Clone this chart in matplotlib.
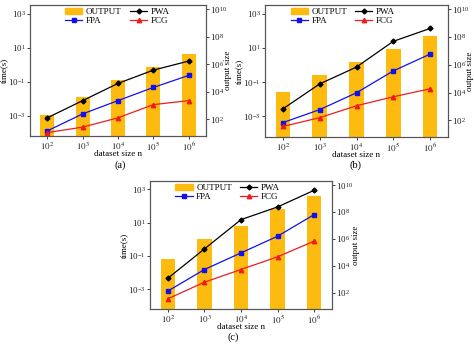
import numpy as np
import matplotlib.pyplot as plt
from matplotlib.ticker import FixedLocator, NullLocator
from matplotlib.patches import Patch

plt.rcParams['font.family'] = ['Liberation Serif', 'DejaVu Serif']
plt.rcParams['mathtext.fontset'] = 'stix'

sizes = ["$10^2$", "$10^3$", "$10^4$", "$10^5$", "$10^6$"]

# panel (a)
out_a = [2.2e2, 4e3, 7e4, 6.3e5, 5.8e6]
pwa_a = [7.4e-4, 7.6e-3, 7.8e-2, 0.47, 1.6]
fpa_a = [1.26e-4, 1.26e-3, 7.6e-3, 4.5e-2, 0.23]
fcg_a = [1e-4, 2.1e-4, 7.4e-4, 4.4e-3, 7.6e-3]

# panel (b)
out_b = [1.1e4, 1.8e5, 1.5e6, 1.3e7, 1.1e8]
pwa_b = [2.8e-3, 7.9e-2, 0.76, 24, 135]
fpa_b = [4.4e-4, 2.5e-3, 2.4e-2, 0.45, 4.3]
fcg_b = [2.6e-4, 8.5e-4, 4.2e-3, 1.4e-2, 4.1e-2]

# panel (c)
out_c = [3e4, 1e6, 9e6, 1.8e8, 1.6e9]
pwa_c = [4.5e-3, 0.26, 15, 87, 870]
fpa_c = [7.6e-4, 1.5e-2, 0.15, 1.5, 30]
fcg_c = [2.6e-4, 2.6e-3, 1.5e-2, 8.7e-2, 0.76]

FS = 6.5
BAR = '#FDBB0F'
W, H = 474, 347


def draw_panel(box, output, pwa, fpa, fcg, leg_x, caption, cap_xy, rlab_px):
    x0, y0, x1, y1 = box  # pixel box: left, top, right, bottom
    ax = fig.add_axes([x0 / W, 1 - y1 / H, (x1 - x0) / W, (y1 - y0) / H])
    ax2 = ax.twinx()
    x = np.arange(len(sizes))

    ax2.bar(x, output, width=0.4, color=BAR, bottom=1)
    ax2.set_yscale('log')
    ax2.set_ylim(10**0.8, 10**10.3)
    ax2.yaxis.set_major_locator(FixedLocator([1e2, 1e4, 1e6, 1e8, 1e10]))
    ax2.yaxis.set_minor_locator(NullLocator())
    ax2.set_ylabel("output size", fontsize=FS)
    ax2.yaxis.set_label_coords(1 + rlab_px / (x1 - x0), 0.5)

    # lines above the bars
    ax.set_zorder(ax2.get_zorder() + 1)
    ax.patch.set_visible(False)
    ax.plot(x, pwa, color='black', marker='D', markersize=2.5, lw=0.9, label="PWA")
    ax.plot(x, fpa, color='#1010F0', marker='s', markersize=3.2, lw=0.9, label="FPA")
    ax.plot(x, fcg, color='#EE1C1C', marker='^', markersize=3.2, lw=0.9, label="FCG")
    ax.set_yscale('log')
    ax.set_ylim(10**-4.2, 10**3.5)
    ax.yaxis.set_major_locator(FixedLocator([1e-3, 1e-1, 1e1, 1e3]))
    ax.yaxis.set_minor_locator(NullLocator())
    ax.set_xlim(-0.49, 4.49)
    ax.set_xticks(x)
    ax.set_xticklabels(sizes)
    ax.set_ylabel("time(s)", fontsize=FS, labelpad=0)
    ax.set_xlabel("dataset size n", fontsize=FS, labelpad=-1.5)

    for a in (ax, ax2):
        a.tick_params(labelsize=FS, length=2, width=0.6, pad=1.2, colors='#222222')
        for s in a.spines.values():
            s.set_color('#555555')
            s.set_linewidth(0.8)

    h, l = ax.get_legend_handles_labels()
    handles = [Patch(color=BAR), h[1], h[0], h[2]]
    labels = ["OUTPUT", "FPA", "PWA", "FCG"]
    ax.legend(handles, labels, ncol=2, loc='upper left', bbox_to_anchor=(leg_x, 1.02),
              frameon=False, fontsize=FS, handlelength=1.9, handleheight=0.7,
              columnspacing=0.9, labelspacing=0.1, handletextpad=0.4, borderpad=0.1)
    fig.text(cap_xy[0] / W, 1 - cap_xy[1] / H, caption, fontsize=7.5,
             ha='center', va='center')


fig = plt.figure(figsize=(4.74, 3.47), dpi=100)
draw_panel((30, 5, 206, 136), out_a, pwa_a, fpa_a, fcg_a, 0.17, "(a)", (120, 165), 18)
draw_panel((265, 5, 448, 137), out_b, pwa_b, fpa_b, fcg_b, 0.11, "(b)", (355, 165), 18)
draw_panel((150, 181, 332, 309), out_c, pwa_c, fpa_c, fcg_c, 0.11, "(c)", (233, 337), 20)

fig.savefig("out.png", dpi=100)
